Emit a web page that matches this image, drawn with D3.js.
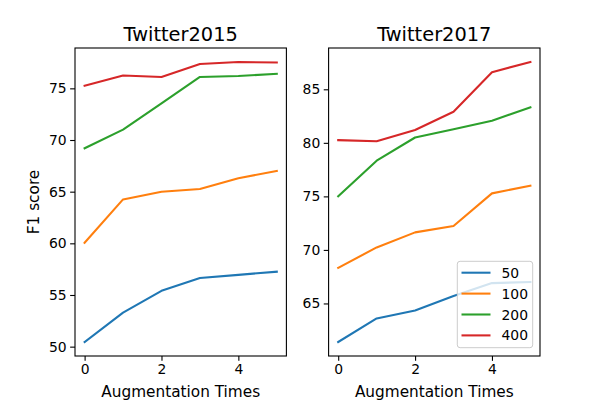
<!DOCTYPE html>
<html><head><meta charset="utf-8">
<script src="https://cdn.jsdelivr.net/npm/d3@7"></script>
<style>
body{margin:0;background:#fff;}
text{font-family:"DejaVu Sans",sans-serif;fill:#000;}
</style></head>
<body><svg id="c" width="600" height="400"></svg>
<script>
const augTimes = [0, 1, 2, 3, 4, 5];
const seriesNames = ["50", "100", "200", "400"];
const colors = ["#1f77b4", "#ff7f0e", "#2ca02c", "#d62728"];
const xTicks = [0, 2, 4];

const t2015_50  = [50.45, 53.3, 55.4, 56.65, 56.95, 57.25];
const t2015_100 = [60.05, 64.25, 65.0, 65.25, 66.3, 67.0];
const t2015_200 = [69.2, 71.0, 73.55, 76.1, 76.2, 76.4];
const t2015_400 = [75.25, 76.25, 76.1, 77.35, 77.55, 77.5];

const t2017_50  = [61.4, 63.6, 64.35, 65.7, 66.9, 67.0];
const t2017_100 = [68.33, 70.23, 71.64, 72.23, 75.28, 76.0];
const t2017_200 = [75.0, 78.33, 80.5, 81.26, 82.07, 83.32];
const t2017_400 = [80.25, 80.15, 81.2, 82.9, 86.6, 87.55];

const yTicks2015 = [50, 55, 60, 65, 70, 75];
const yTicks2017 = [65, 70, 75, 80, 85];

const panels = [
  {title: "Twitter2015", series: [t2015_50, t2015_100, t2015_200, t2015_400], yTicks: yTicks2015, left: 75, ylabel: true, legend: false},
  {title: "Twitter2017", series: [t2017_50, t2017_100, t2017_200, t2017_400], yTicks: yTicks2017, left: 328.6, ylabel: false, legend: true}
];

const svg = d3.select("#c");
const axTop = 48, axBottom = 356, axWidth = 211.4;

panels.forEach(p => {
  const all = p.series.flat();
  const mn = d3.min(all), mx = d3.max(all), pad = (mx - mn) * 0.05;
  const x = d3.scaleLinear().domain([-0.25, 5.25]).range([p.left, p.left + axWidth]);
  const y = d3.scaleLinear().domain([mn - pad, mx + pad]).range([axBottom, axTop]);
  const g = svg.append("g");

  const line = d3.line().x((d, i) => x(augTimes[i])).y(d => y(d));
  p.series.forEach((s, k) => {
    g.append("path").datum(s).attr("d", line)
      .attr("fill", "none").attr("stroke", colors[k]).attr("stroke-width", 2.08)
      .attr("stroke-linecap", "square").attr("stroke-linejoin", "round");
  });

  const xa = g.append("g").attr("transform", `translate(0,${axBottom})`)
    .call(d3.axisBottom(x).tickValues(xTicks).tickSize(4.86).tickPadding(3.5).tickFormat(d3.format("d")));
  const ya = g.append("g").attr("transform", `translate(${p.left},0)`)
    .call(d3.axisLeft(y).tickValues(p.yTicks).tickSize(4.86).tickPadding(3.5).tickFormat(d3.format("d")));
  [xa, ya].forEach(a => {
    a.select(".domain").remove();
    a.selectAll("line").attr("stroke", "#000").attr("stroke-width", 1.1);
    a.selectAll("text").attr("font-size", 13.9).attr("font-family", "DejaVu Sans").attr("fill", "#000");
  });

  g.append("rect").attr("x", p.left).attr("y", axTop).attr("width", axWidth).attr("height", axBottom - axTop)
    .attr("fill", "none").attr("stroke", "#000").attr("stroke-width", 1.1);

  g.append("text").attr("x", p.left + axWidth / 2).attr("y", 41).attr("text-anchor", "middle")
    .attr("font-size", 19.4).text(p.title);
  g.append("text").attr("x", p.left + axWidth / 2).attr("y", 396.5).attr("text-anchor", "middle")
    .attr("font-size", 15.3).text("Augmentation Times");
  if (p.ylabel) {
    g.append("text").attr("transform", `translate(38.5,${(axTop + axBottom) / 2}) rotate(-90)`)
      .attr("text-anchor", "middle").attr("font-size", 15.3).text("F1 score");
  }
  if (p.legend) {
    const lg = g.append("g");
    lg.append("rect").attr("x", 457.3).attr("y", 261.3).attr("width", 75.4).attr("height", 86.4)
      .attr("rx", 2.8).attr("fill", "#fff").attr("fill-opacity", 0.8)
      .attr("stroke", "#cccccc").attr("stroke-width", 1);
    seriesNames.forEach((n, k) => {
      const yy = 272.7 + k * 20.9;
      lg.append("line").attr("x1", 461.5).attr("x2", 490.5).attr("y1", yy).attr("y2", yy)
        .attr("stroke", colors[k]).attr("stroke-width", 2.08);
      lg.append("text").attr("x", 501.5).attr("y", yy + 5).attr("font-size", 13.9).text(n);
    });
  }
});
</script></body></html>
